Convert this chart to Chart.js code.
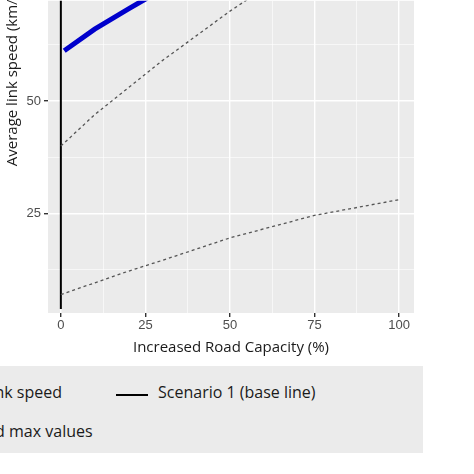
<!DOCTYPE html>
<html><head><meta charset="utf-8">
<script src="https://cdn.jsdelivr.net/npm/chart.js@4"></script>
<style>
html,body{margin:0;padding:0;background:#fff;width:474px;height:474px;overflow:hidden;font-family:"Segoe UI","Open Sans","Liberation Sans",sans-serif}
#wrap{position:absolute;left:0;top:-10px;width:474px;height:367px}
#leg{position:absolute;left:0;top:366px;width:423px;height:87px;background:#ebebeb;color:#1a1a1a;font-size:16px;font-family:"Open Sans",sans-serif;overflow:hidden}
.t{position:absolute;white-space:nowrap}
</style></head><body>
<div id="wrap"><canvas id="c"></canvas></div>
<div id="leg">
 <div class="t" style="left:-78px;top:15px">Average link speed</div>
 <div style="position:absolute;left:116px;top:28px;width:32px;height:2px;background:#000"></div>
 <div class="t" style="left:158px;top:15px">Scenario 1 (base line)</div>
 <div class="t" style="left:-56px;top:54px">Min and max values</div>
</div>
<script>
const capacity = [0, 10, 20, 25, 30, 40, 50, 55, 75, 100];
const avgSpeed = [null, 66, 70.5, 72.7, 75, 79, 83, 85, 92, 100];
const avgStart = {x:1, y:61.2};
const maxSpeed = [40, 47, 53, 56, 59, 64.5, 70, 72.5, 80, 88];
const minSpeed = [7, 9.6, 12.2, 13.4, 14.6, 17.1, 19.6, 20.6, 24.6, 28.1];
const baseLine = [{x:0,y:3.8},{x:0,y:80}];
const xTicks = [0,25,50,75,100];
const yTicks = [25,50];

const pts = a => capacity.map((x,i)=>({x, y:a[i]})).filter(p=>p.y!==null);
const avgPts = [avgStart].concat(pts(avgSpeed));

const ytitle = {id:'yt', afterDraw(ch){const c=ch.ctx;c.save();c.translate(13,86);c.rotate(-Math.PI/2);
 c.font='15px "Open Sans", sans-serif';c.fillStyle='#1a1a1a';c.textAlign='center';c.textBaseline='middle';
 c.fillText('Average link speed (km/h)',0,0);c.restore();}};
const bg = {id:'bg', beforeDraw(ch){const a=ch.chartArea,c=ch.ctx;c.save();c.fillStyle='#ebebeb';c.fillRect(a.left,a.top,a.right-a.left,a.bottom-a.top);c.restore();}};

new Chart(document.getElementById('c'),{
 type:'scatter',
 data:{datasets:[
  {data:pts(maxSpeed),showLine:true,borderColor:'#555',borderWidth:1.3,borderDash:[3,3],pointRadius:0},
  {data:pts(minSpeed),showLine:true,borderColor:'#555',borderWidth:1.3,borderDash:[3,3],pointRadius:0},
  {data:avgPts,showLine:true,borderColor:'#0000cc',borderWidth:5,pointRadius:0},
  {data:baseLine,showLine:true,borderColor:'#000',borderWidth:2,pointRadius:0}
 ]},
 options:{responsive:true,maintainAspectRatio:false,animation:false,
  layout:{padding:{left:0,right:60,top:0,bottom:0}},
  plugins:{legend:{display:false},tooltip:{enabled:false}},
  scales:{
   x:{min:-3.8,max:104.4,
     afterBuildTicks(s){s.ticks=[0,12.5,25,37.5,50,62.5,75,87.5,100].map(v=>({value:v}));},
     afterFit(s){s.height=44;},
     ticks:{color:'#4d4d4d',font:{size:13},padding:1,maxRotation:0,callback:v=>xTicks.includes(v)?v:''},
     grid:{color:'#fff',lineWidth:c=>xTicks.includes(c.tick&&c.tick.value)?1.4:0.6,
       tickColor:c=>xTicks.includes(c.tick&&c.tick.value)?'#333':'rgba(0,0,0,0)',tickLength:4,drawTicks:true},
     border:{display:false},
     title:{display:true,text:'Increased Road Capacity (%)',color:'#1a1a1a',font:{size:15,family:'"Open Sans", sans-serif'},padding:{top:0,bottom:0}}},
   y:{min:2.9,max:72.3,
     afterBuildTicks(s){s.ticks=[12.5,25,37.5,50,62.5].map(v=>({value:v}));},
     afterFit(s){s.width=48;},
     ticks:{color:'#4d4d4d',font:{size:13},padding:3,callback:v=>yTicks.includes(v)?v:''},
     grid:{color:'#fff',lineWidth:c=>yTicks.includes(c.tick&&c.tick.value)?1.4:0.6,
       tickColor:c=>yTicks.includes(c.tick&&c.tick.value)?'#333':'rgba(0,0,0,0)',tickLength:4},
     border:{display:false}}
  }},
 plugins:[bg,ytitle]
});
</script></body></html>
